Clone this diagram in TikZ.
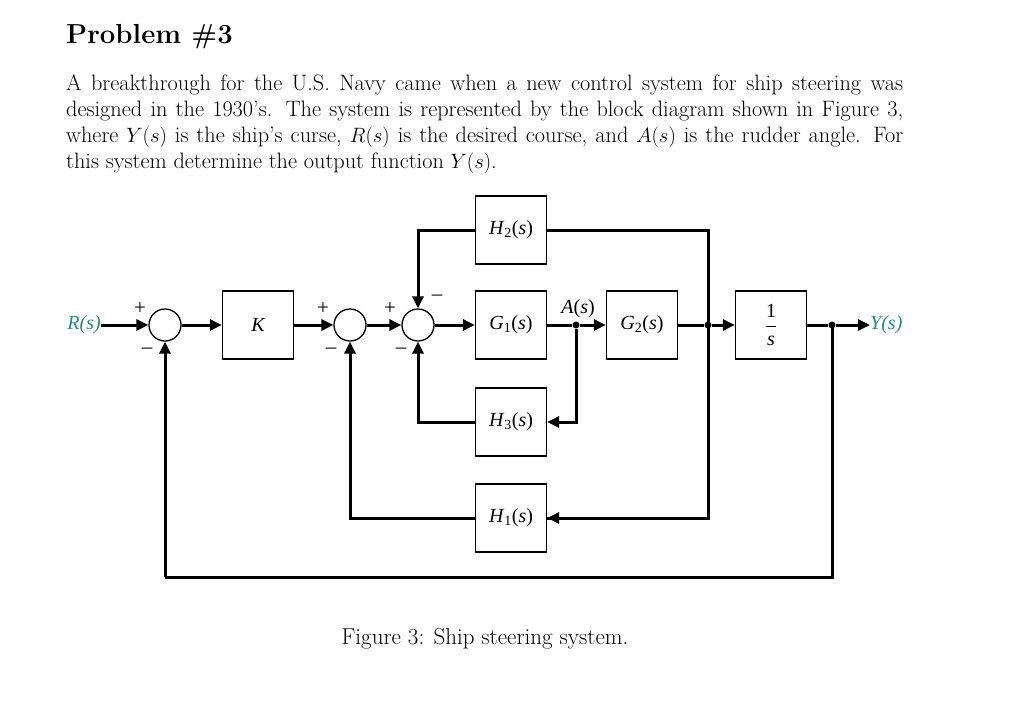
\documentclass[tikz,border=0pt]{standalone}
\usepackage{fontspec}
\newfontfamily\tf{Liberation Serif}
\usetikzlibrary{arrows.meta}
\definecolor{teal2}{RGB}{40,140,128}
\begin{document}
\begin{tikzpicture}[x=1pt,y=-1pt,
  blk/.style={draw,line width=1.3pt,minimum width=71pt,minimum height=68pt,font=\tf\fontsize{20}{22}\selectfont},
  sumc/.style={draw,line width=1.3pt,circle,minimum size=32pt,inner sep=0},
  ln/.style={line width=3pt},
  ar/.style={line width=3pt,-{Triangle[length=12pt,width=11pt]}},
  sg/.style={font=\tf\fontsize{21}{21}\selectfont},
  dot/.style={circle,fill,inner sep=0,minimum size=7pt},
  txt/.style={anchor=base west,inner sep=0,font=\fontsize{22.3}{26}\selectfont}]
\useasboundingbox (0,0) rectangle (1024,715);
\node[anchor=base west,inner sep=0,font=\bfseries\fontsize{27.5}{30}\selectfont] (title) at (66,43) {Problem \#3};
\node[txt] (l1) at (66,90) {\makebox[837pt][s]{A breakthrough for the U.S. Navy came when a new control system for ship steering was}};
\node[txt] (l2) at (66,116) {\makebox[837pt][s]{designed in the 1930's. The system is represented by the block diagram shown in Figure 3,}};
\node[txt] (l3) at (66,142) {\makebox[837pt][s]{where $Y(s)$ is the ship's curse, $R(s)$ is the desired course, and $A(s)$ is the rudder angle. For}};
\node[txt] (l4) at (66,168) {this system determine the output function $Y(s)$.};
\node[anchor=base,inner sep=0,font=\fontsize{23}{26}\selectfont] (cap) at (485,644) {Figure 3: Ship steering system.};

\node[sumc] (s1) at (165,325) {};
\node[sumc] (s2) at (350,325) {};
\node[sumc] (s3) at (418,325) {};
\node[blk] (K) at (258,325) {\itshape K};
\node[blk] (G1) at (511,325) {\textit{G}\textsubscript{1}(\textit{s})};
\node[blk] (H2) at (511,230) {\textit{H}\textsubscript{2}(\textit{s})};
\node[blk] (H3) at (511,422) {\textit{H}\textsubscript{3}(\textit{s})};
\node[blk] (H1) at (511,518) {\textit{H}\textsubscript{1}(\textit{s})};
\node[blk] (G2) at (642,325) {\textit{G}\textsubscript{2}(\textit{s})};
\node[blk] (I) at (771,325) {$\displaystyle\frac{\mbox{\tf 1}}{\mbox{\tf\itshape s}}$};
\node[font=\tf\itshape\fontsize{20}{22}\selectfont,text=teal2,anchor=east,inner sep=0] (R) at (101,325) {R(s)};
\node[font=\tf\itshape\fontsize{20}{22}\selectfont,text=teal2,anchor=west,inner sep=0] (Y) at (870,325) {Y(s)};
\node[dot] (a) at (576,325) {};
\node[dot] (b) at (708,325) {};
\node[dot] (c) at (832,325) {};
\node[font=\tf\fontsize{20}{22}\selectfont] (Al) at (578,309) {\textit{A}(\textit{s})};
\coordinate (cb) at (832,577);
\coordinate (cbl) at (165,577);

\draw[ar] (R) -- (s1);
\draw[ar] (s1) -- (K);
\draw[ar] (K) -- (s2);
\draw[ar] (s2) -- (s3);
\draw[ar] (s3) -- (G1);
\draw[ln] (G1) -- (a);
\draw[ar] (a) -- (G2);
\draw[ln] (G2) -- (b);
\draw[ar] (b) -- (I);
\draw[ln] (I) -- (c);
\draw[ar] (c) -- (Y);
\draw[ar] (a) |- (H3);
\draw[ar] (H3) -| (s3);
\draw[ar] (H2) -| (s3);
\draw[ln] (H2.east) -| (b.center) |- (H1.east);
\draw[ar] (708,518) -- (H1);
\draw[ar] (H1) -| (s2);
\draw[ln] (c.center) -- (cb) -- (cbl);
\draw[ar] (cbl) -- (s1);

\node[sg] at (140,309) {+};
\node[sg] at (147,351) {\textendash};
\node[sg] at (323,309) {+};
\node[sg] at (331,351) {\textendash};
\node[sg] at (390,309) {+};
\node[sg] at (401,351) {\textendash};
\node[sg] at (437,298) {\textendash};
\end{tikzpicture}
\end{document}
